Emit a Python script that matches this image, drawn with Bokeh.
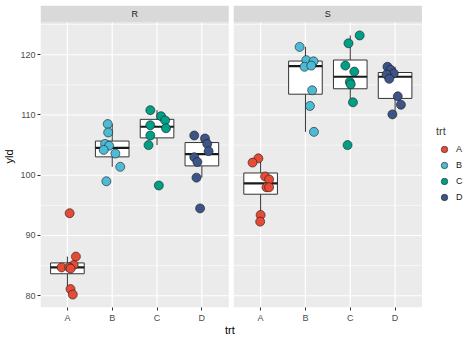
import numpy as np
from bokeh.plotting import figure
from bokeh.models import Range1d, FixedTicker, Legend, LegendItem, ColumnDataSource, Title
from bokeh.core.properties import value
from bokeh.embed import file_html
from bokeh.resources import INLINE

panels = ["R", "S"]
trt = ["A", "B", "C", "D"]
colors = ["#E64B35", "#4DBBD5", "#00A087", "#3C5488"]

# yld values (panel R)
yld_R_A = [93.7, 86.5, 85.1, 84.7, 84.7, 84.5, 81.1, 80.2]
yld_R_B = [108.5, 107.1, 105.2, 104.9, 104.2, 103.6, 101.4, 99.0]
yld_R_C = [110.8, 109.8, 109.1, 108.3, 107.8, 106.6, 105.0, 98.3]
yld_R_D = [106.6, 106.1, 105.2, 104.0, 103.0, 102.2, 99.6, 94.5]
# yld values (panel S)
yld_S_A = [102.8, 102.1, 99.8, 99.3, 98.0, 98.0, 93.4, 92.3]
yld_S_B = [121.3, 119.1, 118.9, 118.0, 118.2, 114.1, 111.5, 107.2]
yld_S_C = [123.2, 121.9, 118.2, 117.2, 115.5, 115.1, 112.1, 105.0]
yld_S_D = [118.0, 117.5, 116.9, 116.7, 116.0, 113.1, 111.7, 110.1]
# horizontal jitter of each point (category units)
jit_R_A = [0.05, 0.19, 0.14, -0.13, 0.04, 0.07, 0.07, 0.12]
jit_R_B = [-0.10, -0.09, -0.16, -0.07, -0.19, 0.07, 0.18, -0.13]
jit_R_C = [-0.15, 0.09, 0.18, -0.15, 0.20, -0.15, -0.19, 0.04]
jit_R_D = [-0.17, 0.07, 0.12, 0.15, -0.17, -0.10, -0.12, -0.04]
jit_S_A = [-0.05, -0.18, 0.10, 0.19, 0.13, 0.19, 0.0, -0.01]
jit_S_B = [-0.13, 0.02, 0.18, -0.02, 0.13, 0.15, 0.10, 0.19]
jit_S_C = [0.21, -0.04, -0.11, 0.09, -0.01, 0.01, 0.06, -0.06]
jit_S_D = [-0.17, -0.10, -0.03, -0.19, -0.13, 0.06, 0.13, -0.06]

yticks = [80, 90, 100, 110, 120]
yminor = [85, 95, 105, 115, 125]

yld = {"R": [yld_R_A, yld_R_B, yld_R_C, yld_R_D], "S": [yld_S_A, yld_S_B, yld_S_C, yld_S_D]}
jit = {"R": [jit_R_A, jit_R_B, jit_R_C, jit_R_D], "S": [jit_S_A, jit_S_B, jit_S_C, jit_S_D]}

FONT = "Liberation Sans"

# layout geometry
W, H = 474, 338
left_b, top_b, bottom_b = 36, 5, 31
n = len(trt)
panel_span = n + 0.2              # each panel covers 0.4 .. n+0.6
ppu = 190.0 / panel_span          # pixels per category unit
gap = 5.0 / ppu
offsets = {"R": 0.0, "S": panel_span + gap}
allv = np.concatenate([np.array(v) for pv in yld.values() for v in pv])
vr = allv.max() - allv.min()
ylo = allv.min() - 0.05 * vr
yhi = allv.max() + 0.05 * vr
strip_h = (yhi - ylo) * 17.0 / 285.0
ytop = yhi + strip_h
xlo = 0.4
xhi = xlo + (W - left_b) / ppu

p = figure(width=W, height=H, x_range=Range1d(xlo, xhi), y_range=Range1d(ylo, ytop),
           output_backend="svg", toolbar_location=None,
           min_border_left=left_b, min_border_right=0, min_border_top=top_b, min_border_bottom=bottom_b)
p.outline_line_color = None
p.background_fill_color = "white"
p.border_fill_color = "white"
p.xgrid.visible = False
p.ygrid.visible = False

for pn in panels:
    o = offsets[pn]
    l, r = o + 0.4, o + n + 0.6
    p.quad(left=[l], right=[r], bottom=[ylo], top=[yhi], fill_color="#EBEBEB", line_color=None)
    p.quad(left=[l], right=[r], bottom=[yhi], top=[ytop], fill_color="#D9D9D9", line_color=None)
    p.segment(x0=[l] * len(yminor), x1=[r] * len(yminor), y0=yminor, y1=yminor,
              line_color="white", line_width=0.6)
    p.segment(x0=[l] * len(yticks), x1=[r] * len(yticks), y0=yticks, y1=yticks,
              line_color="white", line_width=1.2)
    xs = [o + i + 1 for i in range(n)]
    p.segment(x0=xs, x1=xs, y0=[ylo] * n, y1=[yhi] * n, line_color="white", line_width=1.2)
    p.text(x=[o + (n + 1) / 2.0], y=[yhi + strip_h / 2.0], text=[pn], text_align="center",
           text_baseline="middle", text_font_size="9px", text_color="#1A1A1A",
           text_font=value(FONT))

# boxplots
for pn in panels:
    o = offsets[pn]
    for i in range(n):
        v = np.array(yld[pn][i])
        q1, med, q3 = np.percentile(v, [25, 50, 75])
        iqr = q3 - q1
        lo = v[v >= q1 - 1.5 * iqr].min()
        hi = v[v <= q3 + 1.5 * iqr].max()
        x = o + i + 1
        p.segment(x0=[x, x], x1=[x, x], y0=[lo, q3], y1=[q1, hi], line_color="#333333", line_width=1.0)
        p.quad(left=[x - 0.375], right=[x + 0.375], bottom=[q1], top=[q3],
               fill_color="white", line_color="#333333", line_width=1.0)
        p.segment(x0=[x - 0.375], x1=[x + 0.375], y0=[med], y1=[med], line_color="#1A1A1A", line_width=2.2)

# points
renderers = []
for i, t in enumerate(trt):
    xs, ys = [], []
    for pn in panels:
        xs += [offsets[pn] + i + 1 + j for j in jit[pn][i]]
        ys += list(yld[pn][i])
    src = ColumnDataSource(dict(x=xs, y=ys))
    rr = p.scatter("x", "y", source=src, marker="circle", size=9, fill_color=colors[i],
                   line_color="#1A1A1A", line_width=0.6)
    renderers.append(rr)

# axes
xtick_vals = [offsets[pn] + i + 1 for pn in panels for i in range(n)]
p.xaxis.ticker = FixedTicker(ticks=xtick_vals)
p.xaxis.major_label_overrides = {v: trt[k % n] for k, v in enumerate(xtick_vals)}
p.yaxis.ticker = FixedTicker(ticks=yticks)
for ax in (p.xaxis, p.yaxis):
    ax.axis_line_color = None
    ax.minor_tick_line_color = None
    ax.major_tick_line_color = "#333333"
    ax.major_tick_in = 0
    ax.major_tick_out = 3
    ax.major_label_text_font_size = "9px"
    ax.major_label_text_color = "#4D4D4D"
    ax.major_label_text_font = FONT
    ax.axis_label_text_font_size = "11px"
    ax.axis_label_text_font_style = "normal"
    ax.axis_label_text_color = "black"
    ax.axis_label_text_font = FONT
    ax.major_label_standoff = 2
    ax.axis_label_standoff = 2
p.yaxis.axis_label = "yld"

# x-axis title centred under the two panels
panels_center_px = (offsets["S"] + n + 0.6 + 0.4) / 2.0 * ppu - xlo * ppu
xt = Title(text="trt", align="left", offset=panels_center_px - 8, standoff=-4, vertical_align="top",
           text_font_size="11px", text_font_style="normal", text_color="black", text_font=FONT)
p.add_layout(xt, "below")

legend = Legend(items=[LegendItem(label=t, renderers=[r]) for t, r in zip(trt, renderers)],
                title="trt", location=(396, 102), orientation="vertical",
                glyph_width=16, glyph_height=16, spacing=0, label_standoff=4,
                padding=0, margin=0, border_line_color=None, background_fill_alpha=0,
                label_text_font_size="9px", label_text_color="#1A1A1A", label_text_font=FONT,
                title_text_font_size="11px", title_text_font_style="normal", title_text_font=FONT,
                title_standoff=4, label_height=16)
p.add_layout(legend)

open("out.html", "w").write(file_html(p, INLINE))
